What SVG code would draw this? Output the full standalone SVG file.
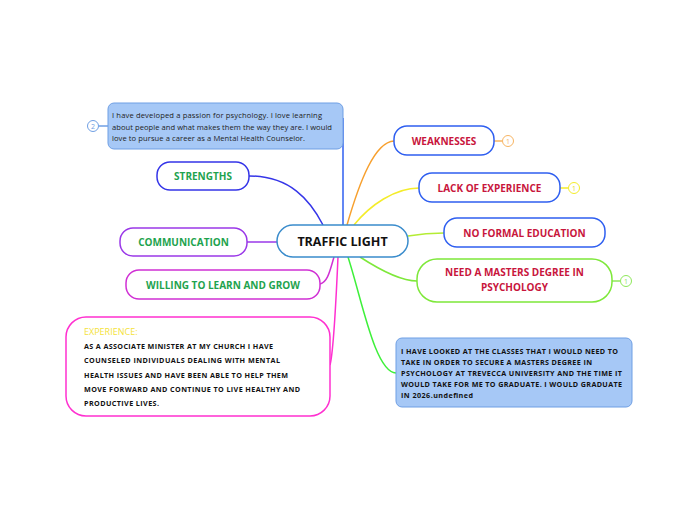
<svg xmlns="http://www.w3.org/2000/svg" width="697" height="520" viewBox="0 0 697 520">
<style>
text{font-family:"Open Sans","Noto Sans","Liberation Sans",sans-serif}
.lbl{font-size:10px;font-weight:bold;text-anchor:middle}
.g{fill:#1ea34e}
.r{fill:#c8153c}
.node{fill:#fff;stroke-width:1.5}
.note{fill:#a6c8f6;stroke:#6f9fe4;stroke-width:1}
.cnt{fill:#fff;stroke-width:1}
.cn{font-size:7px;text-anchor:middle}
.con{fill:none;stroke-width:1.5}
.nt{font-size:7.6px;fill:#222}
.bt{font-size:7.2px;font-weight:bold;fill:#111}
</style>
<rect width="697" height="520" fill="#fff"/>
<g id="connectors">
<path class="con" d="M343,225 L343,118" stroke="#2f5ff0"/>
<path class="con" d="M249,176 C290,176 310,200 323,225" stroke="#3535e8"/>
<path class="con" d="M247,242 L277,242" stroke="#9a38e8"/>
<path class="con" d="M320,284 C328,282 330,270 334,257" stroke="#d030d4"/>
<path class="con" d="M338,257 C336,300 334,350 330,365" stroke="#ff30d0"/>
<path class="con" d="M347,225 C360,180 375,142 394,141" stroke="#f7a02e"/>
<path class="con" d="M354,225 C370,205 395,188 419,188" stroke="#f4ec2a"/>
<path class="con" d="M408,236 C420,234 430,233 444,233" stroke="#b4ec34"/>
<path class="con" d="M360,257 C380,270 400,281 417,281" stroke="#7ee83a"/>
<path class="con" d="M348,257 C362,300 375,372 396,373" stroke="#3ef03a"/>
<path class="con" d="M99,126 L108,126" stroke="#6f9fe4" stroke-width="1"/>
<path class="con" d="M494,141 L502,141" stroke="#f7b462" stroke-width="1"/>
<path class="con" d="M560,188 L568,188" stroke="#f4ec2a" stroke-width="1"/>
<path class="con" d="M612,281 L620,281" stroke="#8ee85a" stroke-width="1"/>
</g>
<g id="center">
<rect x="277" y="225" width="131" height="32" rx="16" fill="#fff" stroke="#3a8ccc" stroke-width="1.5"/>
<text x="342.5" y="246" font-size="12.5" font-weight="bold" text-anchor="middle" fill="#111">TRAFFIC LIGHT</text>
</g>
<g id="note-passion">
<rect class="note" x="108" y="103" width="235" height="46" rx="6"/>
<text class="nt" x="112" y="118" textLength="210" lengthAdjust="spacing">I have developed a passion for psychology.  I love learning</text>
<text class="nt" x="112" y="130" textLength="220" lengthAdjust="spacing">about people and what makes them the way they are.  I would</text>
<text class="nt" x="112" y="141" textLength="193" lengthAdjust="spacing">love to pursue a career as a Mental Health Counselor.</text>
<circle cx="93" cy="126" r="5.5" class="cnt" stroke="#6f9fe4"/>
<text class="cn" x="93" y="128.5" fill="#6f9fe4">2</text>
</g>
<g id="strengths">
<rect class="node" x="157" y="162" width="92" height="28" rx="13" stroke="#3535e8"/>
<text class="lbl g" x="203" y="180">STRENGTHS</text>
</g>
<g id="communication">
<rect class="node" x="120" y="228" width="127" height="28" rx="13" stroke="#9a38e8"/>
<text class="lbl g" x="183.5" y="246">COMMUNICATION</text>
</g>
<g id="willing">
<rect class="node" x="126" y="270" width="194" height="29" rx="13" stroke="#d030d4"/>
<text class="lbl g" x="223" y="288.5">WILLING TO LEARN AND GROW</text>
</g>
<g id="experience">
<rect x="66" y="317" width="264" height="99" rx="20" fill="#fff" stroke="#ff30d0" stroke-width="1.5"/>
<text x="84" y="335" font-size="9" fill="#f4e23a">EXPERIENCE:</text>
<text class="bt" x="84" y="349" textLength="189" lengthAdjust="spacing">AS A ASSOCIATE MINISTER AT MY CHURCH I HAVE</text>
<text class="bt" x="84" y="363" textLength="196" lengthAdjust="spacing">COUNSELED INDIVIDUALS DEALING WITH MENTAL</text>
<text class="bt" x="84" y="378" textLength="204" lengthAdjust="spacing">HEALTH ISSUES AND HAVE BEEN ABLE TO HELP THEM</text>
<text class="bt" x="84" y="392" textLength="216" lengthAdjust="spacing">MOVE FORWARD AND CONTINUE TO LIVE HEALTHY AND</text>
<text class="bt" x="84" y="406" textLength="75" lengthAdjust="spacing">PRODUCTIVE LIVES.</text>
</g>
<g id="weaknesses">
<rect class="node" x="394" y="126" width="100" height="29" rx="13" stroke="#2f5ff0"/>
<text class="lbl r" x="444" y="144.5">WEAKNESSES</text>
<circle cx="508" cy="141" r="5.5" class="cnt" stroke="#f7b462"/>
<text class="cn" x="508" y="143.5" fill="#f7b462">1</text>
</g>
<g id="lack">
<rect class="node" x="419" y="173" width="141" height="29" rx="13" stroke="#2f5ff0"/>
<text class="lbl r" x="489.5" y="191.5">LACK OF EXPERIENCE</text>
<circle cx="574" cy="188" r="5.5" class="cnt" stroke="#f4ec2a"/>
<text class="cn" x="574" y="190.5" fill="#e6dc20">1</text>
</g>
<g id="noformal">
<rect class="node" x="444" y="218" width="161" height="29" rx="13" stroke="#2f5ff0"/>
<text class="lbl r" x="524.5" y="236.5">NO FORMAL EDUCATION</text>
</g>
<g id="masters">
<rect class="node" x="417" y="259" width="195" height="43" rx="20" stroke="#7ee83a"/>
<text class="lbl r" x="514.5" y="276">NEED A MASTERS DEGREE IN</text>
<text class="lbl r" x="514.5" y="291">PSYCHOLOGY</text>
<circle cx="626" cy="281" r="5.5" class="cnt" stroke="#8ee85a"/>
<text class="cn" x="626" y="283.5" fill="#8ee85a">1</text>
</g>
<g id="note-classes">
<rect class="note" x="396" y="338" width="236" height="69" rx="6"/>
<text class="bt" x="401" y="354" textLength="217" lengthAdjust="spacing">I HAVE LOOKED AT THE CLASSES THAT I WOULD NEED TO</text>
<text class="bt" x="401" y="365" textLength="191" lengthAdjust="spacing">TAKE IN ORDER TO SECURE A MASTERS DEGREE IN</text>
<text class="bt" x="401" y="376" textLength="221" lengthAdjust="spacing">PSYCHOLOGY AT TREVECCA UNIVERSITY AND THE TIME IT</text>
<text class="bt" x="401" y="387" textLength="221" lengthAdjust="spacing">WOULD TAKE FOR ME TO GRADUATE.  I WOULD GRADUATE</text>
<text class="bt" x="401" y="398" textLength="72" lengthAdjust="spacing">IN 2026.undefined</text>
</g>
</svg>
